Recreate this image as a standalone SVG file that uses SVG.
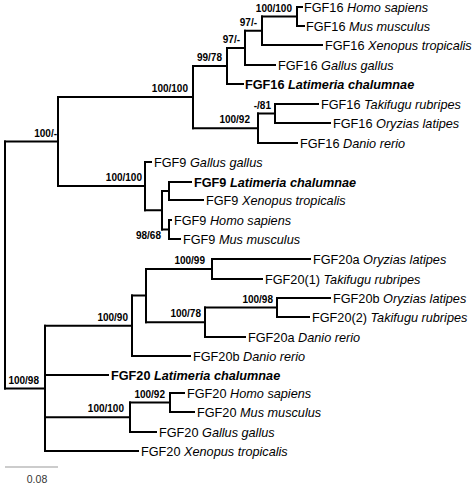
<svg xmlns="http://www.w3.org/2000/svg" width="474" height="486" viewBox="0 0 474 486">
<style>
.e{fill:none;stroke:#000;stroke-width:2;stroke-linecap:square}
.t{font-family:"Liberation Sans",Arial,sans-serif;font-size:12.7px;fill:#000}
.t tspan.i{font-style:italic}
.b{font-weight:bold}
.bs{font-family:"Liberation Sans",Arial,sans-serif;font-size:10px;font-weight:bold;fill:#000;text-anchor:end}
</style>
<rect width="474" height="486" fill="#fff"/>
<g id="edges">
<path class="e" d="M5,141.6V388.4"/>
<path class="e" d="M5,141.6H58M58,97.1V186.1"/>
<path class="e" d="M58,97.1H193M193,66V128.25"/>
<path class="e" d="M193,66H227M227,47.9V84"/>
<path class="e" d="M227,47.9H245M245,30.75V65"/>
<path class="e" d="M245,30.75H262M262,16.5V45"/>
<path class="e" d="M262,16.5H297M297,7V26"/>
<path class="e" d="M297,7H302M297,26H304M262,45H322M245,65H275M227,84H243"/>
<path class="e" d="M193,128.25H258M258,113.5V143"/>
<path class="e" d="M258,113.5H275M275,104V123"/>
<path class="e" d="M275,104H318M275,123H330M258,143H297"/>
<path class="e" d="M58,186.1H145M145,162V210.25M145,162H151"/>
<path class="e" d="M145,210.25H162M162,191V229.5"/>
<path class="e" d="M162,191H169M169,182V200M169,182H191M169,200H203"/>
<path class="e" d="M162,229.5H169M169,220V239M169,220H171M169,239H180"/>
<path class="e" d="M5,388.4H45M45,325.8V451"/>
<path class="e" d="M45,325.8H132M132,295.6V356"/>
<path class="e" d="M132,295.6H146M146,269V322.25"/>
<path class="e" d="M146,269H212M212,259V279M212,259H310M212,279H262"/>
<path class="e" d="M146,322.25H205M205,307.5V337"/>
<path class="e" d="M205,307.5H277M277,298V317M277,298H330M277,317H309"/>
<path class="e" d="M205,337H245M132,356H190M45,375H108"/>
<path class="e" d="M45,417.25H130M130,402.5V432"/>
<path class="e" d="M130,402.5H170M170,393V412M170,393H184M170,412H194M130,432H156M45,451H138"/>
</g>
<g id="n_root"/>
<g id="n_S"><text class="bs" x="57" y="137">100/-</text></g>
<g id="n_T"><text class="bs" x="188" y="92">100/100</text></g>
<g id="n_A"><text class="bs" x="222" y="61">99/78</text></g>
<g id="n_B"><text class="bs" x="240" y="43">97/-</text></g>
<g id="n_C"><text class="bs" x="257" y="26">97/-</text></g>
<g id="n_D"><text class="bs" x="292" y="11.5">100/100</text></g>
<g id="n_E"><text class="bs" x="250" y="123">100/92</text></g>
<g id="n_F"><text class="bs" x="271" y="108.5">-/81</text></g>
<g id="n_G"><text class="bs" x="142" y="181">100/100</text></g>
<g id="n_J"><text class="bs" x="161" y="239">98/68</text></g>
<g id="n_P"><text class="bs" x="205" y="264">100/99</text></g>
<g id="n_Q"><text class="bs" x="201" y="317">100/78</text></g>
<g id="n_R"><text class="bs" x="273" y="302.5">100/98</text></g>
<g id="n_L"><text class="bs" x="128" y="321">100/90</text></g>
<g id="n_K"><text class="bs" x="39" y="383.5">100/98</text></g>
<g id="n_N"><text class="bs" x="165" y="398">100/92</text></g>
<g id="n_M"><text class="bs" x="124" y="412">100/100</text></g>
<g id="leaf_fgf16_homo"><text class="t" x="304" y="11.5">FGF16 <tspan class="i">Homo sapiens</tspan></text></g>
<g id="leaf_fgf16_mus"><text class="t" x="306" y="30.5">FGF16 <tspan class="i">Mus musculus</tspan></text></g>
<g id="leaf_fgf16_xen"><text class="t" x="325" y="49.5">FGF16 <tspan class="i">Xenopus tropicalis</tspan></text></g>
<g id="leaf_fgf16_gal"><text class="t" x="278" y="69.5">FGF16 <tspan class="i">Gallus gallus</tspan></text></g>
<g id="leaf_fgf16_lat"><text class="t b" x="245" y="88.5">FGF16 <tspan class="i">Latimeria chalumnae</tspan></text></g>
<g id="leaf_fgf16_taki"><text class="t" x="321" y="108.5">FGF16 <tspan class="i">Takifugu rubripes</tspan></text></g>
<g id="leaf_fgf16_ory"><text class="t" x="333" y="127.5">FGF16 <tspan class="i">Oryzias latipes</tspan></text></g>
<g id="leaf_fgf16_dan"><text class="t" x="300" y="147.5">FGF16 <tspan class="i">Danio rerio</tspan></text></g>
<g id="leaf_fgf9_gal"><text class="t" x="154" y="166.5">FGF9 <tspan class="i">Gallus gallus</tspan></text></g>
<g id="leaf_fgf9_lat"><text class="t b" x="194" y="186.5">FGF9 <tspan class="i">Latimeria chalumnae</tspan></text></g>
<g id="leaf_fgf9_xen"><text class="t" x="206" y="204.5">FGF9 <tspan class="i">Xenopus tropicalis</tspan></text></g>
<g id="leaf_fgf9_homo"><text class="t" x="174" y="224.5">FGF9 <tspan class="i">Homo sapiens</tspan></text></g>
<g id="leaf_fgf9_mus"><text class="t" x="183" y="243.5">FGF9 <tspan class="i">Mus musculus</tspan></text></g>
<g id="leaf_fgf20a_ory"><text class="t" x="313" y="263.5">FGF20a <tspan class="i">Oryzias latipes</tspan></text></g>
<g id="leaf_fgf20_1_taki"><text class="t" x="265" y="283.5">FGF20(1) <tspan class="i">Takifugu rubripes</tspan></text></g>
<g id="leaf_fgf20b_ory"><text class="t" x="333" y="302.5">FGF20b <tspan class="i">Oryzias latipes</tspan></text></g>
<g id="leaf_fgf20_2_taki"><text class="t" x="312" y="321.5">FGF20(2) <tspan class="i">Takifugu rubripes</tspan></text></g>
<g id="leaf_fgf20a_dan"><text class="t" x="248" y="341.5">FGF20a <tspan class="i">Danio rerio</tspan></text></g>
<g id="leaf_fgf20b_dan"><text class="t" x="193" y="360.5">FGF20b <tspan class="i">Danio rerio</tspan></text></g>
<g id="leaf_fgf20_lat"><text class="t b" x="111" y="379.5">FGF20 <tspan class="i">Latimeria chalumnae</tspan></text></g>
<g id="leaf_fgf20_homo"><text class="t" x="187" y="397.5">FGF20 <tspan class="i">Homo sapiens</tspan></text></g>
<g id="leaf_fgf20_mus"><text class="t" x="197" y="416.5">FGF20 <tspan class="i">Mus musculus</tspan></text></g>
<g id="leaf_fgf20_gal"><text class="t" x="159" y="436.5">FGF20 <tspan class="i">Gallus gallus</tspan></text></g>
<g id="leaf_fgf20_xen"><text class="t" x="141" y="455.5">FGF20 <tspan class="i">Xenopus tropicalis</tspan></text></g>
<g id="scale">
<path d="M5,467H58" stroke="#999" stroke-width="1" fill="none"/>
<text x="37" y="483" font-family="Liberation Sans, Arial, sans-serif" font-size="10.5" fill="#333" text-anchor="middle">0.08</text>
</g>
</svg>
